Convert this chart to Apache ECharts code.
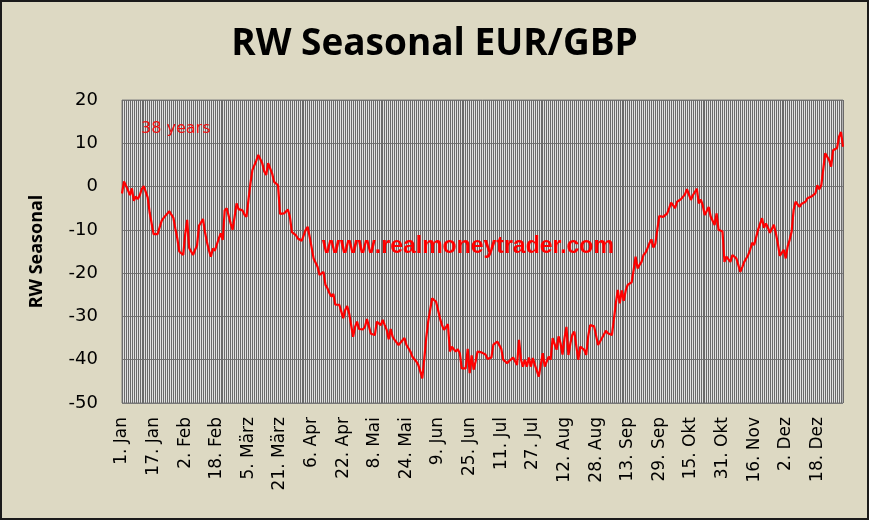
<!DOCTYPE html>
<html>
<head>
<meta charset="utf-8">
<script src="https://cdn.jsdelivr.net/npm/echarts@6/dist/echarts.min.js"></script>
<style>
  html, body { margin: 0; padding: 0; background: #ddd9c3; }
  #chart { width: 869px; height: 520px; box-sizing: border-box; border: 2px solid #1a1a1a; }
</style>
</head>
<body>
<div id="chart"></div>
<script>
// German month names and days per month (leap year, 366 days)
const monthNames = ['Jan', 'Feb', 'März', 'Apr', 'Mai', 'Jun', 'Jul', 'Aug', 'Sep', 'Okt', 'Nov', 'Dez'];
const monthDays = [31, 29, 31, 30, 31, 30, 31, 31, 30, 31, 30, 31];
const yTicks = [-50, -40, -30, -20, -10, 0, 10, 20];

// seasonal value per calendar day
const seasonal = [
  -1.6, 1.2, 1.0, -0.8, -2.0, -0.4, -3.3, -2.3, -2.9, -2.0,
  -0.6, 0.1, 0.0, -2.5, -6.0, -8.5, -11.0, -11.0, -11.0, -10.8,
  -8.0, -7.3, -7.0, -6.2, -5.7, -6.5, -7.2, -9.7, -12.0, -15.0,
  -15.4, -15.8, -11.0, -7.7, -14.2, -15.0, -15.8, -14.6, -13.6, -9.0,
  -8.3, -7.5, -10.5, -12.8, -14.7, -16.2, -14.3, -14.8, -15.0, -12.0,
  -10.8, -12.3, -5.5, -5.0, -4.7, -8.5, -10.0, -7.0, -3.9, -5.2,
  -5.4, -5.5, -6.5, -7.0, -7.3, 0.7, 3.8, 3.5, 6.0, 7.3,
  7.5, 5.4, 3.5, 2.7, 5.4, 5.0, 3.0, 1.1, 1.1, 0.3,
  -6.3, -6.0, -6.2, -6.2, -5.3, -7.0, -10.5, -10.3, -11.2, -12.0,
  -12.0, -12.5, -12.7, -10.0, -9.3, -11.6, -11.6, -16.6, -17.0, -18.5,
  -20.4, -20.8, -19.7, -22.7, -23.5, -24.6, -25.4, -24.8, -27.3, -27.5,
  -27.3, -27.0, -30.4, -28.5, -27.6, -29.3, -29.6, -34.7, -32.4, -31.2,
  -32.9, -32.5, -33.0, -32.4, -30.6, -31.0, -34.0, -34.3, -34.3, -31.2,
  -31.5, -32.0, -30.8, -32.0, -33.1, -35.3, -32.9, -34.7, -35.4, -35.8,
  -36.6, -36.2, -35.5, -35.0, -36.6, -37.0, -38.1, -39.3, -39.6, -40.4,
  -41.2, -42.7, -44.3, -40.0, -35.0, -31.2, -31.5, -25.8, -26.0, -26.6,
  -28.5, -30.5, -32.0, -33.1, -32.5, -31.8, -38.1, -37.0, -37.6, -38.1,
  -37.6, -38.5, -42.0, -42.3, -42.0, -37.5, -43.1, -39.0, -42.3, -40.4,
  -38.1, -38.2, -38.3, -38.5, -38.8, -39.8, -40.0, -39.5, -36.5, -36.5,
  -35.8, -35.8, -37.5, -40.0, -39.8, -40.8, -40.3, -40.2, -39.5, -39.2,
  -41.2, -35.4, -40.0, -41.6, -40.0, -41.6, -39.5, -41.6, -39.6, -41.2,
  -40.8, -43.9, -41.2, -38.5, -41.6, -41.2, -39.3, -40.0, -35.0, -35.0,
  -37.7, -34.6, -36.2, -38.8, -35.0, -32.4, -38.9, -36.2, -34.2, -33.5,
  -36.9, -40.0, -37.0, -37.3, -37.7, -38.9, -34.6, -32.0, -32.2, -32.3,
  -32.4, -36.6, -35.8, -35.0, -34.6, -33.3, -33.9, -33.5, -34.3, -30.8,
  -27.0, -23.9, -27.0, -24.0, -26.4, -24.0, -22.7, -22.3, -22.1, -19.3,
  -16.2, -18.9, -18.1, -17.4, -15.8, -15.3, -14.3, -13.1, -12.2, -14.1,
  -13.2, -10.0, -6.8, -7.2, -7.0, -6.8, -6.2, -5.0, -3.7, -3.5,
  -5.0, -3.5, -3.1, -2.9, -2.7, -1.8, -0.6, -0.9, -3.1, -2.0,
  -2.2, -0.5, -3.9, -3.0, -4.3, -6.6, -6.6, -4.7, -6.9, -7.2,
  -8.9, -6.2, -10.0, -10.0, -10.4, -17.4, -16.2, -16.2, -17.4, -15.8,
  -16.2, -16.6, -18.1, -19.7, -18.6, -17.4, -16.6, -15.8, -14.6, -13.0,
  -13.5, -13.3, -10.0, -9.6, -7.3, -9.5, -8.5, -9.5, -10.7, -10.8,
  -8.8, -10.8, -13.1, -16.0, -16.0, -14.6, -16.6, -13.8, -12.3, -10.4,
  -5.4, -3.5, -3.5, -4.7, -4.0, -3.6, -3.5, -2.7, -2.5, -2.3,
  -2.5, -1.6, 0.3, -0.6, 0.3, 0.7, 7.7, 7.8, 6.1, 4.6,
  8.4, 8.6, 8.9, 11.5, 12.6, 9.2
];

const dayLabels = [];
monthNames.forEach((m, i) => {
  for (let d = 1; d <= monthDays[i]; d++) dayLabels.push(d + '. ' + m);
});

const chart = echarts.init(document.getElementById('chart'));

const option = {
  backgroundColor: '#ddd9c3',
  animation: false,
  title: {
    text: 'RW Seasonal EUR/GBP',
    left: 'center',
    top: 19,
    textStyle: { fontFamily: 'Open Sans', fontWeight: 'bold', fontSize: 37, color: '#000' }
  },
  grid: {
    left: 120, right: 24, top: 98, bottom: 115,
    show: true,
    backgroundColor: '#e2e2e2',
    borderColor: '#808080',
    borderWidth: 1
  },
  graphic: [
    {
      type: 'text', left: 139, top: 119, z: 100,
      style: { text: '38 years', fill: '#f01010', font: '16px "DejaVu Sans"' }
    },
    {
      type: 'text', left: 320, top: 233, z: 100,
      style: { text: 'www.realmoneytrader.com', fill: '#ff0000', font: 'bold 23px "Liberation Sans"' }
    }
  ],
  xAxis: {
    type: 'category',
    data: dayLabels,
    boundaryGap: false,
    axisLine: { show: false },
    axisTick: { show: false },
    axisLabel: {
      interval: 15,
      rotate: 90,
      margin: 14,
      fontFamily: 'DejaVu Sans',
      fontSize: 17,
      color: '#000'
    },
    splitLine: { show: true, interval: 0, lineStyle: { color: '#6a6a6a', width: 1 } }
  },
  yAxis: {
    type: 'value',
    min: yTicks[0],
    max: yTicks[yTicks.length - 1],
    interval: 10,
    name: 'RW Seasonal',
    nameLocation: 'middle',
    nameGap: 76,
    nameTextStyle: { fontFamily: 'Open Sans', fontWeight: 'bold', fontSize: 18, color: '#000' },
    axisLine: { show: false },
    axisTick: { show: false },
    axisLabel: { margin: 24, fontFamily: 'DejaVu Sans', fontSize: 18, color: '#000' },
    splitLine: { show: true, lineStyle: { color: '#7a7a7a', width: 1 } }
  },
  series: [{
    name: 'RW Seasonal',
    type: 'line',
    data: seasonal,
    showSymbol: false,
    lineStyle: { color: '#ff0000', width: 2.2 },
    z: 5
  }]
};
chart.setOption(option);
</script>
</body>
</html>
